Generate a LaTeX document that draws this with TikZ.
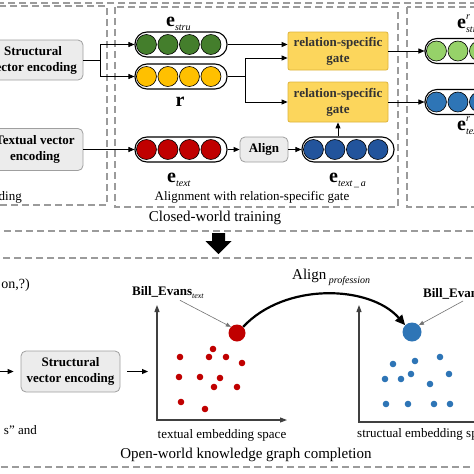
\documentclass[tikz,border=0pt]{standalone}
\usepackage{fontspec}
\setmainfont{Liberation Serif}
\usetikzlibrary{arrows.meta}
\definecolor{boxgray}{RGB}{155,155,155}
\definecolor{encgray}{RGB}{236,236,236}
\definecolor{gatefill}{RGB}{252,214,92}
\definecolor{gateedge}{RGB}{222,180,60}
\definecolor{strugreen}{RGB}{68,126,44}
\definecolor{relyellow}{RGB}{255,192,0}
\definecolor{textred}{RGB}{192,0,0}
\definecolor{alignblue}{RGB}{34,84,156}
\definecolor{outgreen}{RGB}{150,210,105}
\definecolor{outblue}{RGB}{46,117,182}
\newcommand{\embl}[1]{{\fontsize{20}{20}\selectfont\bfseries e}\raisebox{-4pt}{\fontsize{10}{10}\selectfont\itshape #1}}
\newcommand{\embr}[1]{{\fontsize{20}{20}\selectfont\bfseries e}\rlap{\raisebox{9pt}{\fontsize{10}{10}\selectfont\itshape r}}\raisebox{-4pt}{\fontsize{10}{10}\selectfont\itshape #1}}
\tikzset{
	dashbox/.style={draw=boxgray, line width=1.2pt, dash pattern=on 7pt off 4pt},
	encbox/.style={draw=gray!75, fill=encgray, rounded corners=5pt, line width=0.8pt, align=center, inner sep=0pt, font=\fontsize{13}{16}\selectfont\bfseries},
	gatebox/.style={draw=gateedge, fill=gatefill, rounded corners=2pt, line width=0.8pt, minimum width=100pt, align=center, inner sep=0pt, font=\fontsize{13}{16}\selectfont\bfseries\color{black!80}},
	vecbox/.style={draw=black, line width=1.1pt, rounded corners=12pt, minimum width=92pt, minimum height=25pt, inner sep=0pt},
	link/.style={-{Triangle[length=6pt,width=5pt]}, line width=0.9pt},
	pointer/.style={-{Triangle[length=5pt,width=4pt]}, draw=black!55, line width=0.6pt},
	axis/.style={{Triangle[length=7pt,width=5pt]}-{Triangle[length=7pt,width=5pt]}, draw=black!75, line width=1.1pt},
	bigdot/.style={circle, inner sep=0pt},
	lbl/.style={inner sep=0pt, font=\fontsize{13}{13}\selectfont},
}
\newcommand{\vecdots}[2]{\foreach \i in {0,...,3} \filldraw[fill=#2, draw=black, line width=0.6pt] ([xshift={(12+21.5*\i)*1pt}]#1.west) circle (10pt);}
\begin{document}
\begin{tikzpicture}[x=1pt, y=-1pt]
	\clip (0,0) rectangle (474,474);
	\fill[white] (0,0) rectangle (474,474);
	\draw[dashbox] (-10,3) rectangle (484,231);
	\draw[dashbox] (-10,6) rectangle (107,205);
	\draw[dashbox] (115,7) rectangle (398,207);
	\draw[dashbox] (407,7) rectangle (484,207);
	\draw[dashbox] (-10,258) rectangle (484,467);

	\node[encbox, minimum width=100pt, minimum height=40pt] (strtop) at (33,60) {Structural\\vector encoding};
	\node[encbox, minimum width=96pt, minimum height=42pt] (txttop) at (35,149.5) {Textual vector\\encoding};
	\node[vecbox] (estru) at (181,44.5) {};
	\node[vecbox] (rvec) at (181,76.5) {};
	\node[vecbox] (etext) at (181,149.5) {};
	\node[vecbox] (etexta) at (348,149.5) {};
	\node[vecbox] (gout) at (471,51) {};
	\node[vecbox] (bout) at (471,102) {};
	\vecdots{estru}{strugreen}
	\vecdots{rvec}{relyellow}
	\vecdots{etext}{textred}
	\vecdots{etexta}{alignblue}
	\vecdots{gout}{outgreen}
	\vecdots{bout}{outblue}
	\node[gatebox, minimum height=38pt] (gate1) at (338,51) {relation-specific\\gate};
	\node[gatebox, minimum height=40pt] (gate2) at (338,102) {relation-specific\\gate};
	\node[encbox, minimum width=48pt, minimum height=25pt] (align) at (264,149.5) {Align};

	\node[anchor=base west, inner sep=0pt] (lestru) at (166,26) {\embl{stru}};
	\node[anchor=base, inner sep=0pt, font=\fontsize{20}{20}\selectfont\bfseries] (lr) at (180,106) {r};
	\node[anchor=base west, inner sep=0pt] (letext) at (167,182) {\embl{text}};
	\node[anchor=base west, inner sep=0pt] (letexta) at (329,182) {\embl{text\,\_\,a}};
	\node[anchor=base west, inner sep=0pt] (lgout) at (457,28) {\embr{stru}};
	\node[anchor=base west, inner sep=0pt] (lbout) at (457,130) {\embr{text}};

	\coordinate (split1) at (100,60);
	\coordinate (split2) at (245,76.5);
	\draw[line width=0.9pt] (strtop.east) -- (split1);
	\draw[link] (split1) |- (estru.west);
	\draw[link] (split1) |- (rvec.west);
	\draw[link] (estru.east) -- (estru.east -| gate1.west);
	\draw[line width=0.9pt] (rvec.east) -- (split2);
	\draw[link] (split2) |- ([yshift=-7pt]gate1.west);
	\draw[link] (split2) |- (gate2.west);
	\draw[link] (gate1.east) -- (gout.west);
	\draw[link] (gate2.east) -- (bout.west);
	\draw[link] (txttop.east) -- (etext.west);
	\draw[link] (etext.east) -- (align.west);
	\draw[link] (align.east) -- (etexta.west);
	\draw[link] (etexta.north -| gate2.south) -- (gate2.south);

	\node[lbl, anchor=east] (ltextenc) at (22,197) {ding};
	\node[lbl] (lalign) at (252,197) {Alignment with relation-specific gate};
	\node[lbl, font=\fontsize{15}{15}\selectfont] (lclosed) at (215,218) {Closed-world training};
	\fill (212,233) -- (225,233) -- (225,241) -- (231.5,241) -- (218.5,254) -- (205.5,241) -- (212,241) -- cycle;

	\node[lbl, font=\fontsize{14}{14}\selectfont, anchor=east] (lquery) at (30,285) {on,?)};
	\node[lbl, anchor=east] (lnote) at (37,430) {s” and};
	\node[encbox, minimum width=99pt, minimum height=41pt] (strbot) at (70.5,371.5) {Structural\\vector encoding};
	\coordinate (inl) at (-4,371.5);
	\coordinate (toplot) at (148,371.5);
	\draw[link, shorten >=7pt] (inl) -- (strbot.west);
	\draw[link, shorten <=7pt] (strbot.east) -- (toplot);

	\draw[axis] (157,305) |- (287,420);
	\draw[axis] (359,305) |- (500,422);
	\foreach \p in {(180,357),(213,349),(209,357),(226,357),(242,363),(179,377),(200,377),(220,378),(214,387),(237,387),(181,402),(205,409)}
		\fill[textred] \p circle (3.3pt);
	\foreach \p in {(393,364),(415,361),(440,357),(385,379),(401,379),(411,374),(430,384),(449,374),(386,404),(408,404),(434,404),(450,404)}
		\fill[outblue] \p circle (3.3pt);
	\node[bigdot, fill=textred, minimum size=17pt] (rdot) at (237,333) {};
	\node[bigdot, fill=outblue, minimum size=19pt] (bdot) at (412,332) {};

	\node[lbl, anchor=base west] (bill1) at (132,295) {\textbf{Bill\_Evans}\raisebox{-3pt}{\fontsize{8}{8}\selectfont\itshape text}};
	\node[lbl, anchor=base west] (bill2) at (423,297) {\textbf{Bill\_Evans}\raisebox{-3pt}{\fontsize{8}{8}\selectfont\itshape stru}};
	\draw[pointer] ([xshift=12pt, yshift=-2pt]bill1.south) -- (rdot.north west);
	\draw[pointer] (463,301) -- (bdot.north east);
	\draw[line width=2.2pt, -{Triangle[length=10pt,width=9pt]}] (rdot.north east) .. controls (285,282) and (370,285) .. (bdot.north west);
	\node[lbl, anchor=base west, font=\fontsize{15}{15}\selectfont] (lalignp) at (292,279) {Align\raisebox{-4pt}{\fontsize{10}{10}\selectfont\itshape\ profession}};

	\node[lbl] (ltextsp) at (222,435) {textual embedding space};
	\node[lbl, anchor=west] (lstrusp) at (357,434) {structual embedding space};
	\node[lbl, font=\fontsize{15}{15}\selectfont] (lopen) at (246,455) {Open-world knowledge graph completion};
\end{tikzpicture}
\end{document}
